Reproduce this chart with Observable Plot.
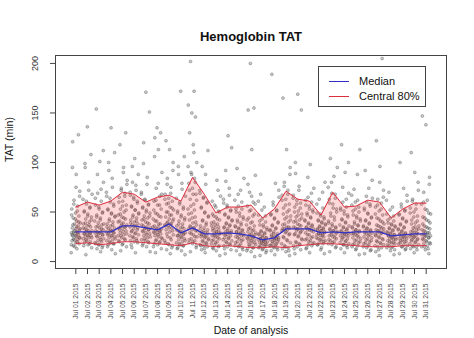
<!DOCTYPE html>
<html><head><meta charset="utf-8">
<script src="https://cdn.jsdelivr.net/npm/d3@7"></script>
<script src="https://cdn.jsdelivr.net/npm/@observablehq/plot@0.6"></script>
<style>
body{margin:0;background:#fff;font-family:"Liberation Sans",Arial,sans-serif;}
#wrap{position:relative;width:474px;height:338px;overflow:hidden;}
#legend{position:absolute;left:318px;top:66px;width:108px;height:41px;border:1px solid #444;background:#fff;box-sizing:border-box;font-size:11px;color:#111;}
.row{position:absolute;left:0;height:14px;line-height:14px;}
.sw{position:absolute;left:10px;top:7px;width:20px;height:0;border-top:1px solid;}
.lb{position:absolute;left:40px;top:0;white-space:nowrap;}
</style></head>
<body><div id="wrap"></div>
<script>
const dayLabels = ["Jul 01 2015","Jul 02 2015","Jul 03 2015","Jul 04 2015","Jul 05 2015","Jul 06 2015","Jul 07 2015","Jul 08 2015","Jul 09 2015","Jul 10 2015","Jul 11 2015","Jul 12 2015","Jul 13 2015","Jul 14 2015","Jul 15 2015","Jul 16 2015","Jul 17 2015","Jul 18 2015","Jul 19 2015","Jul 20 2015","Jul 21 2015","Jul 22 2015","Jul 23 2015","Jul 24 2015","Jul 25 2015","Jul 26 2015","Jul 27 2015","Jul 28 2015","Jul 29 2015","Jul 30 2015","Jul 31 2015"];
const yTicks = [0, 50, 100, 150, 200];

const median = [30,30,30,30,36,36,34,32,38,29,34,28,28,29,28,26,22,24,33,33,33,29,30,29,30,30,30,26,27,28,28];
const p10 = [18,19,17,18,20,20,19,18,17,16,19,16,15,16,15,14,14,15,14,16,17,18,18,17,16,15,15,15,16,16,16];
const p90 = [55,60,57,61,70,68,60,65,67,61,85,68,49,55,55,57,44,53,71,63,61,47,70,55,56,62,60,44,53,59,59];

const d01 = [9,13,16,18,19,21,22,22,24,25,26,27,28,29,30,30,32,33,34,36,38,39,41,44,46,49,53,56,62,71,88,121,128,15,17,20,23,24,26,27,29,31,33,35,37,40,43,47,51,58,66,75,95];
const d02 = [7,14,17,19,20,21,23,24,25,26,27,28,29,30,31,31,33,35,36,38,40,43,45,48,51,55,58,63,72,95,108,136,16,18,22,24,26,28,29,32,34,37,39,42,46,50,54,61,68,80,99];
const d03 = [10,13,16,17,18,20,21,23,24,26,27,28,29,30,30,32,34,35,37,39,41,44,47,50,53,57,61,69,80,101,154,14,17,19,22,25,27,29,31,33,36,38,42,45,49,55,64,73,88,112];
const d04 = [8,12,17,18,19,21,22,24,25,26,27,29,30,30,31,33,34,36,38,40,43,46,49,52,56,60,66,75,92,110,135,15,18,20,23,26,28,29,32,35,37,41,45,48,53,58,64,70,84,100];
const d05 = [11,15,18,20,22,24,26,27,29,31,33,34,35,36,37,39,41,43,45,47,50,53,57,61,65,69,74,82,95,118,130,17,21,23,26,28,30,32,35,38,40,44,48,52,56,60,66,72,78,90];
const d06 = [9,14,19,20,21,23,25,27,28,30,32,33,35,36,37,38,40,42,44,47,49,52,55,59,63,67,72,80,88,104,17,21,24,26,29,31,34,36,39,41,45,48,52,56,61,65,70,77,96];
const d07 = [10,15,18,19,21,22,24,26,28,29,31,32,33,34,35,36,38,40,42,44,46,49,52,55,58,62,70,85,120,151,171,16,20,23,25,27,30,32,34,37,39,43,46,50,54,57,63,68,78,99];
const d08 = [9,13,17,18,20,22,23,25,26,28,29,30,31,32,33,35,36,38,41,43,46,49,53,57,61,66,74,90,113,125,130,135,15,19,21,24,27,29,31,33,35,38,41,45,48,52,57,62,68,79,106];
const d09 = [8,12,16,17,19,22,25,27,30,32,34,36,37,38,39,41,43,45,47,50,52,55,58,61,64,68,75,84,100,113,122,14,18,21,24,28,31,34,36,38,40,43,47,50,54,59,63,69,78,92];
const d10 = [7,11,14,16,17,19,20,22,23,25,26,27,28,29,30,31,33,34,36,38,41,44,47,51,55,60,64,73,88,106,172,13,16,18,21,24,26,28,30,32,35,38,42,45,49,53,58,66,79,96];
const d11 = [10,14,18,19,21,23,25,27,29,31,32,33,34,35,37,39,42,45,49,53,58,63,68,74,79,84,90,100,118,130,146,150,158,172,202,16,20,22,25,28,31,34,36,40,44,48,52,56,62,68,72,80,88,96,110];
const d12 = [9,12,15,16,17,19,21,22,24,25,26,27,28,29,30,32,34,36,39,42,46,50,55,60,65,69,78,96,112,13,16,18,20,23,25,27,29,31,33,37,41,45,49,54,59,64,72,88];
const d13 = [6,11,14,15,17,18,20,22,23,25,26,27,28,29,30,31,32,34,36,38,40,42,45,48,51,57,66,82,13,16,19,21,24,26,28,30,33,35,37,39,43,46,50,55,61,72];
const d14 = [8,12,15,16,18,20,21,23,24,26,27,28,29,30,31,33,35,37,39,42,45,48,52,55,59,67,81,115,127,13,17,19,22,24,27,29,31,34,36,38,41,44,47,51,57,63,74,92];
const d15 = [7,11,14,15,16,18,20,22,23,25,26,27,28,29,30,32,33,35,37,40,43,46,50,53,56,62,72,94,12,16,19,21,24,26,28,30,31,34,36,39,42,45,49,53,60,68,84];
const d16 = [5,10,13,14,16,17,19,20,22,23,24,25,26,27,28,30,32,34,37,40,44,48,52,56,60,70,87,113,153,155,200,11,14,17,19,21,23,25,27,29,31,33,36,39,42,46,51,58,66,78];
const d17 = [6,9,12,14,15,16,17,18,19,20,21,22,22,23,24,25,27,28,30,32,35,37,40,43,47,55,68,11,13,15,17,19,20,21,23,24,26,28,29,31,34,37,41,46,52,61];
const d18 = [7,11,14,15,16,17,18,20,21,22,23,24,24,25,27,28,30,32,34,37,40,44,48,52,57,65,79,189,12,14,16,18,20,22,23,25,26,28,31,33,36,39,43,47,51,60,72];
const d19 = [6,10,13,14,16,19,22,25,27,29,31,32,33,34,35,37,40,43,46,50,54,58,63,67,72,80,95,113,165,11,15,18,21,24,28,30,33,35,38,42,45,48,52,57,62,68,76,88];
const d20 = [8,12,15,16,18,20,23,25,27,29,31,32,33,34,36,38,40,42,45,48,51,55,59,62,67,76,89,153,169,13,17,19,22,26,28,30,33,35,37,41,44,47,50,54,58,64,72,100];
const d21 = [9,13,16,17,19,21,23,25,27,29,31,32,33,34,35,37,39,41,44,47,50,53,57,60,65,74,98,14,18,20,22,24,27,30,32,34,36,38,42,45,49,52,56,62,69,85];
const d22 = [8,12,17,18,19,21,22,23,25,26,27,28,29,30,31,32,33,35,37,39,41,43,46,49,54,63,80,14,17,20,22,24,26,28,29,31,33,34,36,38,40,42,45,48,58,70];
const d23 = [10,14,17,18,20,21,23,25,26,27,29,30,31,32,34,36,39,42,46,50,54,59,64,69,75,86,104,15,19,22,24,27,29,31,33,35,38,41,45,49,53,58,63,68,80,95];
const d24 = [9,13,16,17,18,20,22,23,25,26,27,28,29,30,31,33,35,37,39,42,45,48,52,55,60,69,90,118,14,17,19,21,24,26,28,30,32,34,36,40,43,47,51,54,63,75,100];
const d25 = [7,12,15,16,18,20,22,24,25,27,28,29,30,31,32,34,36,38,41,44,47,50,53,57,62,73,113,13,17,19,21,23,26,28,30,32,35,37,40,43,46,51,55,60,67,88];
const d26 = [8,11,14,15,17,19,21,23,25,27,28,29,30,31,32,34,36,39,42,45,48,52,56,60,64,74,92,12,16,18,20,22,24,26,29,31,33,35,38,41,44,49,54,58,66,82];
const d27 = [6,10,14,15,17,19,21,23,25,27,28,29,30,31,32,34,36,38,41,44,47,51,55,59,63,72,96,122,205,12,16,18,20,22,24,26,29,31,33,35,37,40,43,48,53,57,65,80];
const d28 = [7,11,14,15,16,18,19,21,22,23,24,25,26,27,28,29,31,33,35,37,39,41,44,48,55,70,12,14,17,19,20,22,24,26,27,29,30,32,34,36,38,42,46,52,62];
const d29 = [8,12,15,16,17,19,20,22,23,24,25,26,27,28,29,31,33,35,38,41,44,48,52,55,61,74,100,13,15,18,20,21,23,25,27,28,30,32,34,37,40,43,47,51,58,67];
const d30 = [9,13,15,16,17,19,21,22,24,25,26,27,28,29,30,32,34,36,39,42,46,50,54,58,63,72,90,110,12,15,18,20,22,23,25,27,29,31,33,35,38,41,45,49,53,61,80];
const d31 = [8,12,15,16,18,19,21,23,24,25,26,27,28,29,30,32,34,36,39,42,45,49,53,58,62,70,85,138,147,13,15,18,20,22,24,26,27,29,31,33,35,38,41,44,48,52,60,78];

const perDay = [d01,d02,d03,d04,d05,d06,d07,d08,d09,d10,d11,d12,d13,d14,d15,d16,d17,d18,d19,d20,d21,d22,d23,d24,d25,d26,d27,d28,d29,d30,d31];

// build tables
const points = [];
perDay.forEach((vals, k) => vals.forEach((v, i) => points.push({day: k + 1, v, i: i + k * 7})));
const summary = dayLabels.map((lab, k) => ({day: k + 1, label: lab, med: median[k], lo: p10[k], hi: p90[k]}));
// deterministic horizontal jitter (presentation only)
const jit = d => d.day + (((d.i * 0.618034) % 1) - 0.5) * 0.8;

const font = '"Liberation Sans", Arial, sans-serif';
const red = "#DD2E3E", blue = "#3030C8";

const chart = Plot.plot({
  width: 474, height: 338,
  marginLeft: 55, marginRight: 28, marginTop: 55, marginBottom: 70,
  style: {fontFamily: font, background: "#fff", color: "#222"},
  x: {domain: [-0.74, 32.74], axis: null},
  y: {domain: [-7, 208], axis: null},
  marks: [
    Plot.dot(points, {x: jit, y: "v", r: 1.5, fill: "#444", fillOpacity: 0.3, stroke: "#000", strokeOpacity: 0.42, strokeWidth: 0.5}),
    Plot.areaY(summary, {x: "day", y1: "lo", y2: "hi", fill: "#ff2020", fillOpacity: 0.17}),
    Plot.lineY(summary, {x: "day", y: "lo", stroke: red, strokeWidth: 1}),
    Plot.lineY(summary, {x: "day", y: "hi", stroke: red, strokeWidth: 1}),
    Plot.lineY(summary, {x: "day", y: "med", stroke: blue, strokeWidth: 1.3}),
    Plot.frame({stroke: "#444"}),
    Plot.axisY(yTicks, {tickSize: 5, tickFormat: () => "", label: null, stroke: "#444"}),
    Plot.text(yTicks, {y: d => d, frameAnchor: "left", dx: -20, rotate: -90, text: d => String(d), fontSize: 9, fill: "#333", textAnchor: "middle", lineAnchor: "middle"}),
    Plot.axisX(summary.map(d => d.day), {tickSize: 6, tickFormat: () => "", label: null, stroke: "#444"}),
    Plot.text(summary, {x: "day", frameAnchor: "bottom", dy: 15, rotate: -90, text: "label", fontSize: 6.8, fill: "#444", textAnchor: "end", lineAnchor: "middle"}),
    Plot.text(["Date of analysis"], {frameAnchor: "bottom", dy: 62, fontSize: 10.5, fill: "#111", lineAnchor: "middle"}),
    Plot.text(["TAT (min)"], {frameAnchor: "left", dx: -46, rotate: -90, fontSize: 10.5, fill: "#111", lineAnchor: "middle"}),
    Plot.text(["Hemoglobin TAT"], {frameAnchor: "top", dy: -19, fontSize: 13, fontWeight: "bold", fill: "#111", lineAnchor: "middle"})
  ]
});
const wrap = document.getElementById("wrap");
wrap.appendChild(chart);
const leg = document.createElement("div");
leg.id = "legend";
leg.innerHTML = `<div class="row" style="top:7px;width:100%"><div class="sw" style="border-color:${blue}"></div><div class="lb">Median</div></div>
<div class="row" style="top:22px;width:100%"><div class="sw" style="border-color:${red}"></div><div class="lb">Central 80%</div></div>`;
wrap.appendChild(leg);
</script></body></html>
